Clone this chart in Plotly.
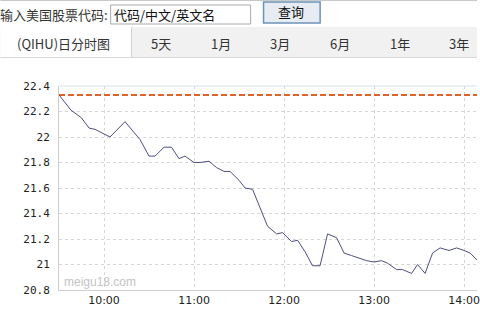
import plotly.graph_objects as go

# ---- data ----
day = "2013-05-20 "
times = ["09:30", "09:38", "09:45", "09:50", "09:54", "10:04", "10:14", "10:24", "10:30", "10:34",
         "10:40", "10:45", "10:50", "10:54", "11:00", "11:04", "11:10", "11:15", "11:20", "11:24",
         "11:30", "11:34", "11:39", "11:49", "11:55", "11:59", "12:05", "12:09", "12:14", "12:19",
         "12:24", "12:29", "12:35", "12:40", "12:45", "12:50", "12:55", "13:00", "13:05", "13:09",
         "13:15", "13:19", "13:25", "13:29", "13:34", "13:39", "13:44", "13:50", "13:55", "14:00",
         "14:04", "14:09"]
prices = [22.33, 22.21, 22.15, 22.07, 22.06, 22.00, 22.12, 21.98, 21.85, 21.85,
          21.92, 21.92, 21.83, 21.85, 21.80, 21.80, 21.81, 21.76, 21.73, 21.73,
          21.66, 21.60, 21.59, 21.30, 21.24, 21.25, 21.18, 21.19, 21.10, 20.99,
          20.99, 21.24, 21.21, 21.09, 21.07, 21.05, 21.03, 21.02, 21.03, 21.01,
          20.96, 20.96, 20.93, 21.00, 20.93, 21.09, 21.13, 21.11, 21.13, 21.11,
          21.09, 21.03]
prev_close = 22.33
x_tick_vals = ["10:00", "11:00", "12:00", "13:00", "14:00"]
y_tick_vals = [20.8, 21.0, 21.2, 21.4, 21.6, 21.8, 22.0, 22.2, 22.4]
y_tick_text = ["20.8", "21", "21.2", "21.4", "21.6", "21.8", "22", "22.2", "22.4"]
tabs = ["5天", "1月", "3月", "6月", "1年", "3年"]
first_tab = "(QIHU)日分时图"
search_label = "输入美国股票代码:"
search_hint = "代码/中文/英文名"
button_label = "查询"
watermark = "meigu18.com"

# ---- layout geometry (pixels) ----
W, H = 480, 320
L, R, T, B = 59, 480, 86, 290


def px(x):
    return (x - L) / (R - L)


def py(y):
    return (B - y) / (B - T)


xs = [day + t for t in times]
fig = go.Figure()
fig.add_trace(go.Scatter(x=[day + "09:30", day + "14:09:00"], y=[prev_close, prev_close],
                         mode="lines", line=dict(color="#e0622a", width=2, dash="6px,3px"),
                         hoverinfo="skip"))
fig.add_trace(go.Scatter(x=xs, y=prices, mode="lines",
                         line=dict(color="#4e4e80", width=1)))

CJK = "Noto Sans CJK SC"
shapes = []
ann = []

# header background
shapes.append(dict(type="line", xref="paper", yref="paper", x0=px(0), x1=px(480), y0=py(0.5), y1=py(0.5),
                   line=dict(color="#c8c8c8", width=1)))
# tab bar
shapes.append(dict(type="rect", xref="paper", yref="paper", x0=px(0), x1=px(480), y0=py(27), y1=py(57),
                   fillcolor="#f1f1f1", line=dict(width=0)))
shapes.append(dict(type="rect", xref="paper", yref="paper", x0=px(0), x1=px(132), y0=py(27), y1=py(57),
                   fillcolor="white", line=dict(width=0)))
shapes.append(dict(type="line", xref="paper", yref="paper", x0=px(132), x1=px(132), y0=py(27), y1=py(57),
                   line=dict(color="#d0d0d0", width=1)))
shapes.append(dict(type="line", xref="paper", yref="paper", x0=px(0), x1=px(480), y0=py(57.5), y1=py(57.5),
                   line=dict(color="#d8d8d8", width=1)))
# input box
shapes.append(dict(type="rect", xref="paper", yref="paper", x0=px(111), x1=px(252), y0=py(5), y1=py(24),
                   fillcolor="white", line=dict(color="#a9a9a9", width=1)))
# button
shapes.append(dict(type="rect", xref="paper", yref="paper", x0=px(265), x1=px(322), y0=py(2), y1=py(23),
                   fillcolor="#e6ecf2", line=dict(color="#6c93b8", width=1.5)))

ann.append(dict(text=search_label, xref="paper", yref="paper", x=px(110), y=py(15), xanchor="right",
                yanchor="middle", showarrow=False, font=dict(family=CJK, size=13, color="#333")))
ann.append(dict(text=search_hint, xref="paper", yref="paper", x=px(112), y=py(15), xanchor="left",
                yanchor="middle", showarrow=False, font=dict(family=CJK, size=13, color="#111")))
ann.append(dict(text=button_label, xref="paper", yref="paper", x=px(293), y=py(11), xanchor="center",
                yanchor="middle", showarrow=False, font=dict(family=CJK, size=13, color="#111")))
ann.append(dict(text=first_tab, xref="paper", yref="paper", x=px(64), y=py(43), xanchor="center",
                yanchor="middle", showarrow=False, font=dict(family=CJK, size=13, color="#333")))
for i, t in enumerate(tabs):
    ann.append(dict(text=t, xref="paper", yref="paper", x=px(162 + 60 * i), y=py(43), xanchor="center",
                    yanchor="middle", showarrow=False, font=dict(family=CJK, size=13, color="#333")))
ann.append(dict(text=watermark, xref="paper", yref="paper", x=px(62), y=py(282), xanchor="left",
                yanchor="middle", showarrow=False, font=dict(family="Liberation Sans", size=12, color="#c4c4c4")))

fig.update_layout(
    width=W, height=H,
    margin=dict(l=L, r=W - R, t=T, b=H - B),
    paper_bgcolor="white", plot_bgcolor="white",
    showlegend=False,
    shapes=shapes, annotations=ann,
    xaxis=dict(range=[day + "09:30", day + "14:08:36"], type="date",
               tickvals=[day + t for t in x_tick_vals], ticktext=x_tick_vals,
               ticklabeloverflow="allow",
               showgrid=True, gridcolor="#d6d6d6", griddash="dot", gridwidth=1,
               showline=True, linecolor="#cfcfcf", ticks="", zeroline=False,
               tickfont=dict(family="DejaVu Sans", size=11, color="#222")),
    yaxis=dict(range=[20.8, 22.4], tickvals=y_tick_vals, ticktext=y_tick_text,
               showgrid=True, gridcolor="#d6d6d6", griddash="dot", gridwidth=1,
               showline=True, linecolor="#cfcfcf", mirror=False, ticks="", zeroline=False,
               ticklabelstandoff=6,
               tickfont=dict(family="DejaVu Sans Mono", size=11, color="#222")),
)
# top border
fig.add_shape(type="line", xref="paper", yref="paper", x0=0, x1=1, y0=1, y1=1,
              line=dict(color="#d5e3ea", width=1))

fig.write_html("out.html")
